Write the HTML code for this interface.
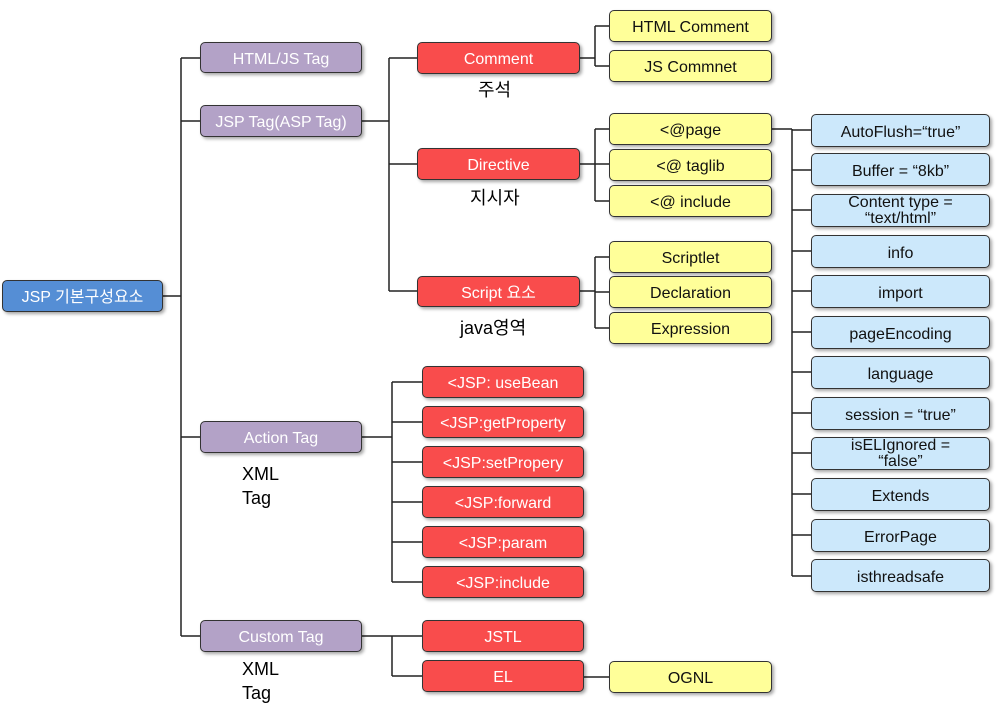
<!DOCTYPE html>
<html><head><meta charset="utf-8"><style>
body{margin:0;width:1000px;height:714px;background:#fff;position:relative;overflow:hidden;font-family:"Liberation Sans","Noto Sans CJK KR",sans-serif}
.b{position:absolute;box-sizing:border-box;border:1.5px solid #333;border-radius:5px;display:flex;align-items:center;justify-content:center;text-align:center;font-size:16px;line-height:17px;padding-top:3px;box-shadow:2px 2px 3px rgba(0,0,0,.35)}
.r{background:#f94c4c;color:#fff}.p{background:#b3a2c7;color:#fff}.y{background:#ffff99;color:#111}.c{background:#cce8fb;color:#111}
.t{position:absolute;font-size:18px;color:#000}
svg{position:absolute;left:0;top:0}
</style></head><body>
<svg width="1000" height="714" stroke="#222" stroke-width="1.5" fill="none">
<path d="M163 296H181M181 58V636M181 58H200M181 121H200M181 437H200M181 636H200"/>
<path d="M362 121H389M389 58V291M389 58H417M389 164H417M389 291H417"/>
<path d="M580 58H595M595 26V66M595 26H609M595 66H609"/>
<path d="M580 164H595M595 129V201M595 129H609M595 164H609M595 201H609"/>
<path d="M580 291H595M595 257V328M595 257H609M595 292H609M595 328H609"/>
<path d="M772 129H792M792 129V576M792 130H811M792 170H811M792 210H811M792 251H811M792 291H811M792 332H811M792 372H811M792 413H811M792 453H811M792 494H811M792 535H811M792 576H811"/>
<path d="M362 437H392M392 382V582M392 382H422M392 422H422M392 462H422M392 502H422M392 542H422M392 582H422"/>
<path d="M362 636H392M392 636V676M392 636H422M392 676H422M584 677H609"/>
</svg>
<div class="b" style="left:2px;top:280px;width:161px;height:32px;background:#558ed5;color:#fff">JSP 기본구성요소</div>
<div class="b p" style="left:200px;top:42px;width:162px;height:31px">HTML/JS Tag</div>
<div class="b p" style="left:200px;top:105px;width:162px;height:32px">JSP Tag(ASP Tag)</div>
<div class="b p" style="left:200px;top:421px;width:162px;height:32px">Action Tag</div>
<div class="b p" style="left:200px;top:620px;width:162px;height:32px">Custom Tag</div>
<div class="b r" style="left:417px;top:42px;width:163px;height:32px">Comment</div>
<div class="b r" style="left:417px;top:148px;width:163px;height:32px">Directive</div>
<div class="b r" style="left:417px;top:276px;width:163px;height:31px">Script 요소</div>
<div class="t" style="left:478px;top:76px">주석</div>
<div class="t" style="left:470px;top:184px">지시자</div>
<div class="t" style="left:460px;top:314px">java영역</div>
<div class="t" style="left:242px;top:462px;line-height:24px">XML<br>Tag</div>
<div class="t" style="left:242px;top:657px;line-height:24px">XML<br>Tag</div>
<div class="b y" style="left:609px;top:10px;width:163px;height:32px">HTML Comment</div>
<div class="b y" style="left:609px;top:50px;width:163px;height:32px">JS Commnet</div>
<div class="b y" style="left:609px;top:113px;width:163px;height:32px">&lt;@page</div>
<div class="b y" style="left:609px;top:149px;width:163px;height:32px">&lt;@ taglib</div>
<div class="b y" style="left:609px;top:185px;width:163px;height:32px">&lt;@ include</div>
<div class="b y" style="left:609px;top:241px;width:163px;height:32px">Scriptlet</div>
<div class="b y" style="left:609px;top:276px;width:163px;height:32px">Declaration</div>
<div class="b y" style="left:609px;top:312px;width:163px;height:32px">Expression</div>
<div class="b y" style="left:609px;top:661px;width:163px;height:32px">OGNL</div>
<div class="b r" style="left:422px;top:366px;width:162px;height:32px">&lt;JSP: useBean</div>
<div class="b r" style="left:422px;top:406px;width:162px;height:32px">&lt;JSP:getProperty</div>
<div class="b r" style="left:422px;top:446px;width:162px;height:32px">&lt;JSP:setPropery</div>
<div class="b r" style="left:422px;top:486px;width:162px;height:32px">&lt;JSP:forward</div>
<div class="b r" style="left:422px;top:526px;width:162px;height:32px">&lt;JSP:param</div>
<div class="b r" style="left:422px;top:566px;width:162px;height:32px">&lt;JSP:include</div>
<div class="b r" style="left:422px;top:620px;width:162px;height:32px">JSTL</div>
<div class="b r" style="left:422px;top:660px;width:162px;height:32px">EL</div>
<div class="b c" style="left:811px;top:114px;width:179px;height:33px">AutoFlush=“true”</div>
<div class="b c" style="left:811px;top:153px;width:179px;height:33px">Buffer = “8kb”</div>
<div class="b c" style="left:811px;top:194px;width:179px;height:33px;line-height:16px;padding-top:0">Content type =<br>“text/html”</div>
<div class="b c" style="left:811px;top:235px;width:179px;height:33px">info</div>
<div class="b c" style="left:811px;top:275px;width:179px;height:33px">import</div>
<div class="b c" style="left:811px;top:316px;width:179px;height:33px">pageEncoding</div>
<div class="b c" style="left:811px;top:356px;width:179px;height:33px">language</div>
<div class="b c" style="left:811px;top:397px;width:179px;height:33px">session = “true”</div>
<div class="b c" style="left:811px;top:437px;width:179px;height:33px;line-height:16px;padding-top:0">isELIgnored =<br>“false”</div>
<div class="b c" style="left:811px;top:478px;width:179px;height:33px">Extends</div>
<div class="b c" style="left:811px;top:519px;width:179px;height:33px">ErrorPage</div>
<div class="b c" style="left:811px;top:559px;width:179px;height:33px">isthreadsafe</div>
</body></html>
